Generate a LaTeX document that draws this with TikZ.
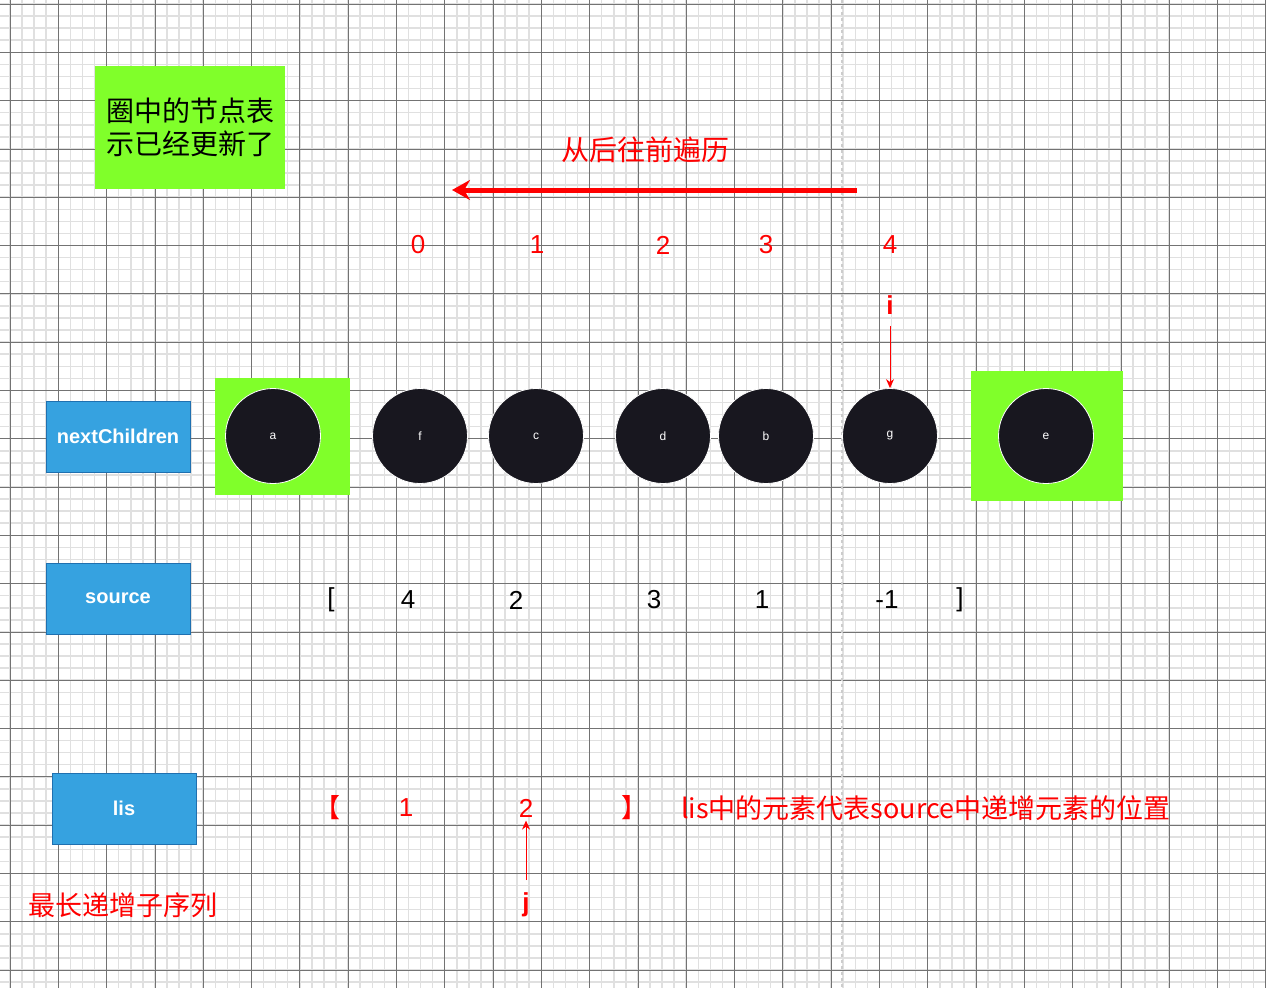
\documentclass[tikz,border=0pt]{standalone}
\usepackage{fontspec}
\setmainfont{Liberation Sans}
\newfontfamily\cjk{Noto Sans CJK SC}
\usetikzlibrary{arrows.meta}
\definecolor{gr}{HTML}{80FF2A}
\definecolor{bl}{HTML}{36A2E0}
\definecolor{bld}{HTML}{1F70B0}
\definecolor{dk}{HTML}{18171F}
\definecolor{rd}{HTML}{FF0000}
\begin{document}
\begin{tikzpicture}[x=1pt,y=-1pt,
  fs/.style={font=\fontsize{#1}{#1}\selectfont},
  lab/.style={bl,fill=bl,draw=bld,line width=1pt,minimum width=144pt,minimum height=71pt,inner sep=0pt,text=white,font=\fontsize{20}{20}\selectfont\bfseries},
  nd/.style={circle,fill=dk,draw=white,line width=0.8pt,minimum size=95pt,inner sep=0pt,text=white,font=\fontsize{12}{12}\selectfont},
  gbox/.style={fill=gr,draw=none,inner sep=0pt},
  red/.style={text=rd,font=\fontsize{26}{26}\selectfont},
  blk/.style={text=black,font=\fontsize{26}{26}\selectfont}]
\useasboundingbox (0,0) rectangle (1266,988);
\fill[white] (0,0) rectangle (1266,988);
% grid
\foreach \k in {0,...,105}{
  \draw[black!12,line width=1.5pt] ({-2.075+12.075*\k},0) -- ({-2.075+12.075*\k},988);}
\foreach \k in {0,...,82}{
  \draw[black!12,line width=1.5pt] (0,{4+12.075*(\k-1)}) -- (1266,{4+12.075*(\k-1)});}
\foreach \k in {0,...,26}{
  \draw[black!55,line width=0.8pt] ({10+48.3*\k},0) -- ({10+48.3*\k},988);}
\foreach \k in {0,...,20}{
  \draw[black!55,line width=0.8pt] (0,{4+48.3*\k}) -- (1266,{4+48.3*\k});}
\draw[black!20,line width=1.2pt,dashed] (842,0) -- (842,988);
% legend box
\node[gbox,minimum width=190pt,minimum height=123pt,align=left,font=\cjk\fontsize{28}{33}\selectfont] (leg) at (190,127.5) {圈中的节点表\\示已经更新了};
% traversal
\node[text=rd,font=\cjk\fontsize{28}{28}\selectfont] (trav) at (645,150) {从后往前遍历};
\coordinate (ta) at (857,190);
\coordinate (tb) at (452,190);
\draw[rd,line width=5pt,-{Stealth[length=18pt,width=20pt]}] (ta) -- (tb);
% indices
\node[red] (i0) at (418,245) {0};
\node[red] (i1) at (537,245) {1};
\node[red] (i2) at (663,245) {2};
\node[red] (i3) at (766,245) {3};
\node[red] (i4) at (890,245) {4};
% labels
\node[lab] (nc) at (118,436.5) {nextChildren};
\node[lab] (src) at (118,598.5) {source};
\node[lab] (lis) at (124,808.5) {lis};
% green squares
\node[gbox,minimum width=135pt,minimum height=117pt] (ga) at (282.5,436.5) {};
\node[gbox,minimum width=152pt,minimum height=130pt] (ge) at (1047,436) {};
% nodes
\node[nd] (a) at (273,436) {a};
\node[nd] (f) at (420,436) {f};
\node[nd] (c) at (536,436) {c};
\node[nd] (d) at (663,436) {d};
\node[nd] (b) at (766,436) {b};
\node[nd] (g) at (890,436) {g};
\node[nd] (e) at (1046,436) {e};
% i pointer
\node[text=rd,font=\fontsize{26}{26}\selectfont\bfseries] (ip) at (890,305) {i};
\draw[rd,line width=1pt,-{Stealth[length=9pt,width=8pt]}] (ip.south) ++(0,8) -- (g.north);
% source
\node[blk] (s0) at (331,600) {[};
\node[blk] (s1) at (408,600) {4};
\node[blk] (s2) at (516,600) {2};
\node[blk] (s3) at (654,600) {3};
\node[blk] (s4) at (762,600) {1};
\node[blk] (s5) at (887,600) {-1};
\node[blk] (s6) at (960,600) {]};
% lis
\node[text=rd,font=\cjk\fontsize{26}{26}\selectfont] (l0) at (327,808) {【};
\node[red] (l1) at (406,808) {1};
\node[red] (l2) at (526,808) {2};
\node[text=rd,font=\cjk\fontsize{26}{26}\selectfont] (l3) at (634,808) {】};
\node[text=rd,font=\cjk\fontsize{27}{27}\selectfont,anchor=west,inner sep=0pt] (note) at (681,808) {lis中的元素代表source中递增元素的位置};
\node[text=rd,font=\fontsize{26}{26}\selectfont\bfseries] (jp) at (526,905) {j};
\coordinate (jt) at (526,880);
\draw[rd,line width=1pt,-{Stealth[length=9pt,width=8pt]}] (jt) -- (l2.south);
\node[text=rd,font=\cjk\fontsize{27}{27}\selectfont] (lisn) at (123,905) {最长递增子序列};
\end{tikzpicture}
\end{document}
